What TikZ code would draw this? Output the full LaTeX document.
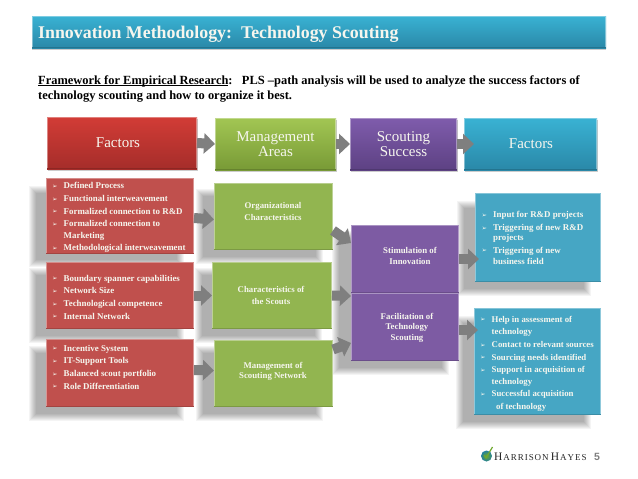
\documentclass[tikz,border=0pt]{standalone}
\usepackage{fontspec}
\setmainfont{Liberation Serif}
\newfontfamily\bulletfont{DejaVu Sans}
\newfontfamily\logosans{Liberation Sans}
\usetikzlibrary{fit,arrows.meta,shadings}
\definecolor{redtop}{HTML}{D23C36}
\definecolor{redbot}{HTML}{A52D2A}
\definecolor{grntop}{HTML}{A2C653}
\definecolor{grnbot}{HTML}{789A36}
\definecolor{purtop}{HTML}{7F5CAC}
\definecolor{purbot}{HTML}{5D4183}
\definecolor{blutop}{HTML}{39B2D3}
\definecolor{blubot}{HTML}{2A88A8}
\definecolor{redlist}{HTML}{C0504D}
\definecolor{grnlist}{HTML}{92B550}
\definecolor{purlist}{HTML}{7D5BA3}
\definecolor{blulist}{HTML}{46A6C4}
\definecolor{arrowgray}{HTML}{7F7F7F}
\definecolor{offwhite}{HTML}{F6F6EE}
\definecolor{logoteal}{HTML}{1F7F9F}
\definecolor{logogreen}{HTML}{6FA82E}
\tikzset{
  flat/.style={rectangle,inner sep=0pt,outer sep=0pt},
  redhead/.style={flat,top color=redtop,bottom color=redbot},
  grnhead/.style={flat,top color=grntop,bottom color=grnbot},
  purhead/.style={flat,top color=purtop,bottom color=purbot},
  bluhead/.style={flat,top color=blutop,bottom color=blubot},
  redbox/.style={flat,fill=redlist},
  grnbox/.style={flat,fill=grnlist},
  purbox/.style={flat,fill=purlist},
  blubox/.style={flat,fill=blulist},
  headtext/.style={text=offwhite,align=center,font=\fontsize{15}{15}\selectfont,inner sep=0pt},
  boxtext/.style={text=offwhite,align=center,font=\fontsize{8.8}{12}\selectfont\bfseries,inner sep=0pt},
  listtext/.style={text=offwhite,align=left,anchor=north west,font=\fontsize{8.9}{12.6}\selectfont\bfseries,inner sep=0pt},
  conn/.style={draw=arrowgray,line width=10pt,-{Triangle[length=11pt,width=20pt]}},
}
% soft drop shadow
\newcommand{\softshadow}[4]{%
  \foreach \i in {0,1,...,7}{%
    \fill[black,opacity=.042] (#1+\i-4,#2+\i-4) rectangle (#3-\i+4,#4-\i+4);
  }%
}
% bevelled box: name, x1,y1,x2,y2, style
\newcommand{\bevelbox}[6]{%
  \node[#6,fit={(#2,#3)(#4,#5)}] (#1) {};
  \draw[white,opacity=.4,line width=1.3pt] ([xshift=.7pt,yshift=.7pt]#1.south west) -- ([xshift=.7pt,yshift=-.7pt]#1.north west);
  \draw[white,opacity=.4,line width=1.3pt] ([xshift=-.7pt,yshift=.7pt]#1.south east) -- ([xshift=-.7pt,yshift=-.7pt]#1.north east);
  \draw[white,opacity=.35,line width=1pt] ([yshift=-.5pt]#1.north west) -- ([yshift=-.5pt]#1.north east);
  \draw[black,opacity=.15,line width=1pt] ([yshift=.5pt]#1.south west) -- ([yshift=.5pt]#1.south east);
}
\newcommand{\bl}[1]{\makebox[11.5pt][l]{\raisebox{.4pt}{\bulletfont\fontsize{6.5}{6.5}\selectfont ➢}}#1}
\newcommand{\ind}{\hspace*{11.5pt}}
\newcommand{\lk}{\kern.95pt}
\begin{document}
\begin{tikzpicture}[x=1pt,y=-1pt]
\useasboundingbox (0,0) rectangle (638,479);
\fill[white] (0,0) rectangle (638,479);

% title bar
\fill[black,opacity=.2] (32,18) rectangle (606,49.5);
\bevelbox{titlebar}{32}{16}{606}{48}{bluhead}
\node[anchor=base west,inner sep=0pt,text=offwhite,font=\fontsize{17.85}{18}\selectfont\bfseries] (titletext) at (38,38.5) {Innovation Methodology:\ \ Technology Scouting};

% intro text
\node[anchor=base west,inner sep=0pt,font=\fontsize{12.45}{15}\selectfont\bfseries] (intro1) at (38,84) {\underline{\smash{Framework for Empirical Research}}:\ \ \ PLS --path analysis will be used to analyze the success factors of};
\node[anchor=base west,inner sep=0pt,font=\fontsize{12.45}{15}\selectfont\bfseries] (intro2) at (38,99) {technology scouting and how to organize it best.};

% shadows
\softshadow{33}{190}{180}{263}
\softshadow{33}{272}{180}{339}
\softshadow{33}{350}{180}{417}
\softshadow{200}{193}{319}{260}
\softshadow{199}{272}{318}{339}
\softshadow{200}{350}{319}{417}
\softshadow{336}{235}{445}{371}
\softshadow{461}{205}{587}{292}
\softshadow{460}{320}{587}{425}
\fill[black,opacity=.2] (48,119) rectangle (198,170.5);
\fill[black,opacity=.2] (216,120) rectangle (337,171.5);
\fill[black,opacity=.2] (351,120) rectangle (458,171.5);
\fill[black,opacity=.2] (465,120) rectangle (598,171.5);

% header row
\bevelbox{hfactors}{47}{117}{197}{169}{redhead}
\bevelbox{hareas}{215}{118}{336}{170}{grnhead}
\bevelbox{hsuccess}{350}{118}{457}{170}{purhead}
\bevelbox{hresult}{464}{118}{597}{170}{bluhead}
\node[headtext] (thf) at (118,142.5) {Factors};
\node[headtext] (tha) at (275.5,144) {Management\\Areas};
\node[headtext] (ths) at (403.5,144) {Scouting\\Success};
\node[headtext] (thr) at (531,143.5) {Factors};

% left column
\bevelbox{r1}{46}{178}{194}{254}{redbox}
\bevelbox{r2}{46}{262}{194}{329}{redbox}
\bevelbox{r3}{46}{339}{194}{407}{redbox}
\node[listtext] (lr1) at (52,182.5) {\bl{Defined Process}\\\bl{Functional interweavement}\\\bl{Formalized connection to R\&D}\\\bl{Formalized connection to}\\[-1pt]\ind Marketing\\\bl{Methodological interweavement}};
\node[listtext] (lr2) at (52,275) {\bl{Boundary spanner capabilities}\\\bl{Network Size}\\\bl{Technological competence}\\\bl{Internal Network}};
\node[listtext] (lr3) at (52,345) {\bl{Incentive System}\\\bl{IT-Support Tools}\\\bl{Balanced scout portfolio}\\\bl{Role Differentiation}};

% green column
\bevelbox{g1}{214}{183}{333}{250}{grnbox}
\bevelbox{g2}{212}{262}{332}{329}{grnbox}
\bevelbox{g3}{214}{340}{333}{407}{grnbox}
\node[boxtext] (tg1) at (273,211) {Organizational\\Characteristics};
\node[boxtext,font=\fontsize{8.8}{11.2}\selectfont\bfseries] (tg2) at (271,295.5) {Characteristics of\\the Scouts};
\node[boxtext,font=\fontsize{8.8}{10.2}\selectfont\bfseries] (tg3) at (273,371) {Management of\\Scouting Network};

% purple column
\bevelbox{p1}{351}{225}{459}{293}{purbox}
\bevelbox{p2}{351}{293}{459}{361}{purbox}
\node[boxtext,font=\fontsize{8.8}{10.2}\selectfont\bfseries] (tp1) at (410,256) {Stimulation of\\Innovation};
\node[boxtext,font=\fontsize{8.8}{10.5}\selectfont\bfseries] (tp2) at (407,327.5) {Facilitation of\\Technology\\Scouting};

% blue column
\bevelbox{b1}{475}{193}{601}{282}{blubox}
\bevelbox{b2}{474}{308}{601}{415}{blubox}
\node[listtext] (lb1) at (481.5,211.5) {\bl{Input for R\&D projects}\\\bl{Triggering of new R\&D}\\[-2.5pt]\ind projects\\\bl{Triggering of new}\\[-1.5pt]\ind business field};
\node[listtext,font=\fontsize{8.8}{12.6}\selectfont\bfseries] (lb2) at (480,316) {\bl{Help in assessment of}\\\ind technology\\\bl{Contact to relevant sources}\\\bl{Sourcing needs identified}\\\bl{Support in acquisition of}\\[-1pt]\ind technology\\\bl{Successful acquisition}\\\ind\ \ of technology};

% connectors
\draw[conn] (hfactors.east) -- (hareas.west);
\draw[conn] (hareas.east) -- (hsuccess.west);
\draw[conn] (hsuccess.east) -- ([xshift=10pt]hresult.west);
\draw[conn] ([yshift=-2pt]r1.east) -- ([yshift=-3pt]g1.west);
\draw[conn] (r2.east) -- (g2.west);
\draw[conn] ([yshift=3pt]r3.east) -- ([yshift=3pt]g3.west);
\draw[conn] ([yshift=-14pt]g1.east) -- ([yshift=16pt]p1.west);
\draw[conn] (g2.east) -- ([yshift=-3pt]p1.south west);
\draw[conn] ([yshift=24pt]g3.east) -- ([yshift=-16pt]p2.west);
\draw[conn] (p1.east) -- ([xshift=4pt]b1.west |- p1.east);
\draw[conn] ([yshift=-3pt]p2.east) -- ([yshift=-3pt,xshift=4pt]b2.west |- p2.east);

% logo
\shade[inner color=logogreen,outer color=logoteal] (486.5,456) circle (5.5);
\draw[logogreen,line width=1.2pt] (484,455) -- (486,458) -- (492.5,447);
\node[anchor=base west,inner sep=0pt,text=black!85,font=\fontsize{9}{9}\selectfont] (logotext) at (494,460.5) {{\fontsize{11.5}{11.5}\selectfont H}\lk A\lk R\lk R\lk I\lk S\lk O\lk N\ {\fontsize{11.5}{11.5}\selectfont H}\lk A\lk Y\lk E\lk S};
\node[anchor=base west,inner sep=0pt,text=arrowgray,font=\logosans\fontsize{10.5}{10.5}\selectfont\bfseries] (pagenum) at (594,460.5) {5};
\end{tikzpicture}
\end{document}
